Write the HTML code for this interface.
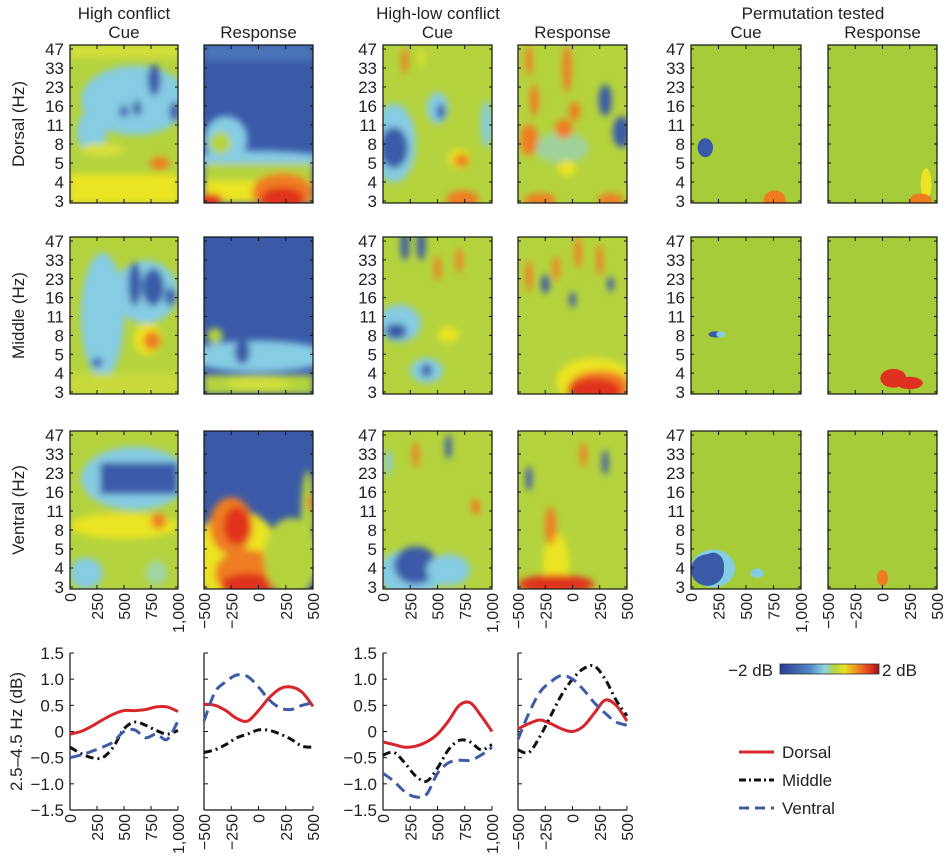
<!DOCTYPE html>
<html><head><meta charset="utf-8"><style>
html,body{margin:0;padding:0;background:#fff;}
svg text{font-family:"Liberation Sans",sans-serif;fill:#222;}
</style></head><body>
<svg id="fig" width="946" height="863" viewBox="0 0 946 863" xmlns="http://www.w3.org/2000/svg">
<defs>
<filter id="blur" x="-20%" y="-20%" width="140%" height="140%"><feGaussianBlur stdDeviation="3.5"/></filter>
</defs>
</svg>
<script>
// ---- Line chart data ----
const cueTimes = [0,100,200,300,400,500,600,700,800,900,1000];
const respTimes = [-500,-400,-300,-200,-100,0,100,200,300,400,500];
const hcCueDorsal  = [-0.05,0,0.1,0.22,0.33,0.4,0.4,0.42,0.47,0.47,0.38];
const hcCueMiddle  = [-0.3,-0.42,-0.5,-0.5,-0.3,0.05,0.18,0.12,0.02,-0.05,0.02];
const hcCueVentral = [-0.5,-0.45,-0.38,-0.3,-0.2,0.0,0.03,-0.12,-0.05,-0.15,0.2];
const hcRespDorsal  = [0.52,0.5,0.4,0.25,0.2,0.4,0.65,0.82,0.85,0.75,0.48];
const hcRespMiddle  = [-0.4,-0.35,-0.25,-0.12,-0.05,0.03,0.02,-0.05,-0.15,-0.28,-0.3];
const hcRespVentral = [0.2,0.75,0.95,1.08,1.05,0.85,0.6,0.45,0.42,0.5,0.55];
const hlCueDorsal  = [-0.2,-0.25,-0.3,-0.28,-0.2,-0.05,0.2,0.5,0.55,0.3,0.0];
const hlCueMiddle  = [-0.45,-0.4,-0.6,-0.85,-0.95,-0.7,-0.35,-0.17,-0.2,-0.35,-0.25];
const hlCueVentral = [-0.8,-0.95,-1.15,-1.25,-1.2,-0.8,-0.6,-0.55,-0.55,-0.45,-0.3];
const hlRespDorsal  = [0.05,0.15,0.22,0.15,0.05,0.0,0.1,0.35,0.6,0.5,0.2];
const hlRespMiddle  = [-0.35,-0.4,-0.1,0.3,0.7,1.0,1.2,1.25,1.0,0.6,0.3];
const hlRespVentral = [-0.15,0.35,0.75,0.95,1.07,1.0,0.8,0.55,0.35,0.18,0.12];
const yTickVals = [1.5,1.0,0.5,0,-0.5,-1.0,-1.5];
const yTickLabels = ["1.5","1.0","0.5","0","\u22120.5","\u22121.0","\u22121.5"];
const cueTickVals = [0,250,500,750,1000];
const cueTickLabels = ["0","250","500","750","1,000"];
const respTickVals = [-500,-250,0,250,500];
const respTickLabels = ["\u2212500","\u2212250","0","250","500"];
const freqLabels = ["47","33","23","16","11","8","5","4","3"];

const G='#b5d33e',Y='#ebe424',C='#86cce3',B='#3a5aa8',R='#e0301f',O='#ef7d20',PG='#a6cc3a';
const heat = [
 [ {bg:G,b:[['r',0,0,1,0.08,'#d3e03a'],['e',0.6,0.35,0.5,0.22,C],['e',0.2,0.55,0.14,0.14,C],['e',0.5,0.42,0.04,0.04,B],['e',0.62,0.4,0.04,0.05,B],['e',0.78,0.22,0.06,0.1,B],['e',0.97,0.42,0.05,0.06,B],['r',0,0.82,1,0.18,Y],['e',0.3,0.66,0.2,0.04,'#d8e03a'],['e',0.83,0.75,0.09,0.04,O]]},
   {bg:B,b:[['r',0,0,1,0.1,'#4c74b8'],['e',0.2,0.6,0.2,0.15,C],['e',0.5,0.72,0.6,0.05,C],['e',0.15,0.62,0.1,0.07,G],['r',0,0.75,1,0.25,G],['r',0,0.86,1,0.14,Y],['e',0.72,0.93,0.28,0.12,O],['e',0.72,0.97,0.2,0.07,R],['e',0.05,0.98,0.12,0.04,R]]},
   {bg:G,b:[['e',0.1,0.62,0.2,0.25,C],['e',0.1,0.65,0.13,0.13,B],['e',0.5,0.4,0.1,0.1,C],['e',0.53,0.42,0.04,0.05,B],['e',0.95,0.5,0.05,0.15,C],['e',0.2,0.1,0.03,0.08,O],['e',0.35,0.08,0.02,0.06,Y],['e',0.7,0.72,0.1,0.06,Y],['e',0.72,0.73,0.07,0.04,O],['e',0.73,0.98,0.15,0.06,O]]},
   {bg:G,b:[['e',0.4,0.65,0.25,0.1,'#9fd29a'],['e',0.45,0.15,0.04,0.15,O],['e',0.1,0.1,0.03,0.1,O],['e',0.15,0.35,0.04,0.1,O],['e',0.95,0.55,0.08,0.1,B],['e',0.8,0.35,0.06,0.1,B],['e',0.1,0.6,0.08,0.1,O],['e',0.42,0.53,0.08,0.06,O],['e',0.52,0.42,0.05,0.06,O],['e',0.2,0.98,0.15,0.04,O],['e',0.85,0.98,0.12,0.04,O],['e',0.45,0.78,0.08,0.05,Y]]},
   {bg:PG,s:1,b:[['e',0.13,0.65,0.07,0.06,B],['e',0.76,0.98,0.1,0.06,O]]},
   {bg:PG,s:1,b:[['e',0.9,0.88,0.05,0.1,Y],['e',0.85,0.98,0.1,0.04,O]]} ],
 [ {bg:G,b:[['e',0.3,0.5,0.2,0.4,C],['e',0.7,0.35,0.3,0.2,C],['e',0.6,0.3,0.06,0.14,B],['e',0.77,0.32,0.1,0.12,B],['e',0.93,0.38,0.05,0.06,B],['e',0.25,0.8,0.05,0.03,B],['e',0.72,0.65,0.13,0.1,Y],['e',0.76,0.66,0.08,0.06,O],['r',0,0.87,1,0.13,'#c8da3a']]},
   {bg:B,b:[['e',0.5,0.76,0.65,0.1,C],['e',0.1,0.63,0.07,0.05,G],['e',0.35,0.73,0.07,0.08,B],['r',0,0.88,1,0.12,G],['e',0.5,0.93,0.3,0.05,'#cfe03a']]},
   {bg:G,b:[['e',0.15,0.55,0.2,0.12,C],['e',0.12,0.6,0.1,0.05,B],['e',0.4,0.85,0.15,0.08,C],['e',0.4,0.85,0.05,0.04,B],['e',0.6,0.62,0.1,0.05,Y],['e',0.2,0.05,0.04,0.1,B],['e',0.35,0.05,0.04,0.1,B],['e',0.5,0.2,0.03,0.08,O],['e',0.7,0.15,0.03,0.08,O]]},
   {bg:G,b:[['e',0.7,0.92,0.35,0.15,Y],['e',0.75,0.95,0.28,0.1,O],['e',0.7,0.98,0.25,0.08,R],['e',0.1,0.25,0.03,0.1,O],['e',0.55,0.1,0.03,0.1,O],['e',0.75,0.15,0.03,0.1,O],['e',0.35,0.2,0.03,0.08,O],['e',0.5,0.4,0.03,0.05,B],['e',0.25,0.3,0.04,0.06,B],['e',0.85,0.3,0.03,0.05,B]]},
   {bg:PG,s:1,b:[['e',0.22,0.62,0.06,0.02,B],['e',0.27,0.62,0.04,0.02,C]]},
   {bg:PG,s:1,b:[['e',0.6,0.9,0.12,0.06,R],['e',0.75,0.93,0.12,0.04,R]]} ],
 [ {bg:G,b:[['e',0.6,0.3,0.5,0.2,C],['r',0.28,0.2,0.72,0.2,B],['e',0.5,0.6,0.5,0.08,Y],['e',0.82,0.57,0.07,0.05,O],['e',0.15,0.9,0.15,0.1,C],['e',0.8,0.9,0.1,0.08,'#a0d4a0']]},
   {bg:B,b:[['e',0.3,0.8,0.4,0.3,Y],['e',0.25,0.6,0.2,0.18,O],['e',0.3,0.6,0.12,0.12,R],['e',0.4,0.9,0.3,0.15,O],['e',0.4,0.98,0.25,0.08,R],['e',0.8,0.8,0.25,0.25,G],['e',0.95,0.55,0.06,0.3,G],['e',0.98,0.45,0.03,0.05,O]]},
   {bg:G,b:[['e',0.25,0.9,0.3,0.15,C],['e',0.3,0.85,0.2,0.12,B],['e',0.6,0.88,0.2,0.1,C],['e',0.85,0.48,0.04,0.05,O],['e',0.3,0.15,0.03,0.08,O],['e',0.6,0.1,0.03,0.08,B],['e',0.05,0.2,0.03,0.08,C]]},
   {bg:G,b:[['e',0.35,0.85,0.12,0.2,Y],['e',0.35,0.97,0.35,0.06,R],['e',0.3,0.6,0.05,0.12,O],['e',0.6,0.15,0.03,0.08,O],['e',0.8,0.2,0.03,0.08,B],['e',0.1,0.3,0.03,0.08,B]]},
   {bg:PG,s:1,b:[['e',0.2,0.87,0.2,0.12,C],['e',0.15,0.88,0.15,0.1,B],['e',0.2,0.85,0.1,0.08,B],['e',0.6,0.9,0.06,0.03,C]]},
   {bg:PG,s:1,b:[['e',0.5,0.93,0.05,0.05,O]]} ]
];

const NS='http://www.w3.org/2000/svg';
const svg=document.getElementById('fig');
function el(tag,attrs,parent){const e=document.createElementNS(NS,tag);for(const k in attrs)e.setAttribute(k,attrs[k]);(parent||svg).appendChild(e);return e;}
function txt(s,x,y,size,anchor,extra){const t=el('text',Object.assign({x:x,y:y,'font-size':size,'text-anchor':anchor||'middle'},extra||{}));t.textContent=s;return t;}

const colX=[[70,178],[204,313],[383,492],[518,627],[691,801],[828,937]];
const rowY=[[45,203],[237,394],[431,589]];
const rowNames=['Dorsal (Hz)','Middle (Hz)','Ventral (Hz)'];

[['High conflict',124],['High-low conflict',438],['Permutation tested',813]].forEach(h=>{
  const t=txt(h[0],h[1],19,17);
  
  
});
colX.forEach((c,i)=>{
  const t=txt(i%2===0?'Cue':'Response',(c[0]+c[1])/2,38,17);
  
  
});

let clipId=0;
rowY.forEach((r,ri)=>{
  const rl=txt(rowNames[ri],0,0,17,'middle',{transform:`translate(24,${(r[0]+r[1])/2}) rotate(-90)`});
  
  
  colX.forEach((c,ci)=>{
    const x0=c[0],x1=c[1],y0=r[0],y1=r[1],w=x1-x0,h=y1-y0;
    const spec=heat[ri][ci];
    const g=el('g',{});
    
    
    const cp=el('clipPath',{id:'cp'+(++clipId)},g);
    el('rect',{x:x0,y:y0,width:w,height:h},cp);
    const inner=el('g',{'clip-path':`url(#cp${clipId})`},g);
    el('rect',{x:x0,y:y0,width:w,height:h,fill:spec.bg},inner);
    const bl=el('g',spec.s?{}:{filter:'url(#blur)'},inner);
    spec.b.forEach(b=>{
      if(b[0]==='r') el('rect',{x:x0+b[1]*w,y:y0+b[2]*h,width:b[3]*w,height:b[4]*h,fill:b[5]},bl);
      else el('ellipse',{cx:x0+b[1]*w,cy:y0+b[2]*h,rx:b[3]*w,ry:b[4]*h,fill:b[5]},bl);
    });
    el('rect',{x:x0,y:y0,width:w,height:h,fill:'none',stroke:'#111','stroke-width':1.2},g);
    for(let i=0;i<9;i++){
      const yy=y0+4+i*(h-6)/8;
      el('line',{x1:x0,x2:x0+3,y1:yy,y2:yy,stroke:'#111'},g);
      el('line',{x1:x1,x2:x1-3,y1:yy,y2:yy,stroke:'#111'},g);
      if(ci%2===0){const t=txt(freqLabels[i],x0-6,yy+6,17,'end');}
    }
    const tv=ci%2===0?cueTickVals:respTickVals, tl=ci%2===0?cueTickLabels:respTickLabels;
    const d0=tv[0],d1=tv[tv.length-1];
    tv.forEach((v,k)=>{
      const xx=x0+(v-d0)/(d1-d0)*w;
      el('line',{x1:xx,x2:xx,y1:y0,y2:y0+4,stroke:'#111'},g);
      el('line',{x1:xx,x2:xx,y1:y1,y2:y1-4,stroke:'#111'},g);
      if(ri===2){const t=txt(tl[k],0,0,16,'end',{transform:`translate(${xx+6},${y1+4}) rotate(-90)`});}
    });
  });
});

const ly0=653, ly1=810;
function yScale(v){return ly0+(1.5-v)/3*(ly1-ly0);}
function smooth(pts){
  let d=`M${pts[0][0]},${pts[0][1]}`;
  for(let i=0;i<pts.length-1;i++){
    const p0=pts[i-1]||pts[i],p1=pts[i],p2=pts[i+1],p3=pts[i+2]||p2;
    d+=` C${p1[0]+(p2[0]-p0[0])/6},${p1[1]+(p2[1]-p0[1])/6} ${p2[0]-(p3[0]-p1[0])/6},${p2[1]-(p3[1]-p1[1])/6} ${p2[0]},${p2[1]}`;
  }
  return d;
}
const linePanels=[
  {c:colX[0],t:cueTimes,ticks:cueTickVals,tl:cueTickLabels,s:[hcCueDorsal,hcCueMiddle,hcCueVentral],lab:true},
  {c:colX[1],t:respTimes,ticks:respTickVals,tl:respTickLabels,s:[hcRespDorsal,hcRespMiddle,hcRespVentral],lab:false},
  {c:colX[2],t:cueTimes,ticks:cueTickVals,tl:cueTickLabels,s:[hlCueDorsal,hlCueMiddle,hlCueVentral],lab:true},
  {c:colX[3],t:respTimes,ticks:respTickVals,tl:respTickLabels,s:[hlRespDorsal,hlRespMiddle,hlRespVentral],lab:false}
];
const styles=[{stroke:'#d7262b',dash:''},{stroke:'#111',dash:'8,4,2,4'},{stroke:'#3e5ba8',dash:'11,6'}];
const seriesNames=['dorsal-line','middle-line','ventral-line'];
linePanels.forEach(p=>{
  const x0=p.c[0],x1=p.c[1],w=x1-x0;
  const d0=p.ticks[0],d1=p.ticks[p.ticks.length-1];
  const xs=v=>x0+(v-d0)/(d1-d0)*w;
  const g=el('g',{});
  
  
  el('line',{x1:x0,x2:x0,y1:ly0,y2:ly1,stroke:'#111','stroke-width':1.2},g);
  el('line',{x1:x0,x2:x1,y1:ly1,y2:ly1,stroke:'#111','stroke-width':1.2},g);
  yTickVals.forEach((v,k)=>{
    const yy=yScale(v);
    el('line',{x1:x0,x2:x0+4,y1:yy,y2:yy,stroke:'#111'},g);
    if(p.lab){const t=txt(yTickLabels[k],x0-6,yy+6,17,'end');}
  });
  p.ticks.forEach((v,k)=>{
    const xx=xs(v);
    el('line',{x1:xx,x2:xx,y1:ly1,y2:ly1-4,stroke:'#111'},g);
    const t=txt(p.tl[k],0,0,16,'end',{transform:`translate(${xx+6},${ly1+4}) rotate(-90)`});
    
    
  });
  p.s.forEach((vals,si)=>{
    const pts=vals.map((v,i)=>[xs(p.t[i]),yScale(v)]);
    const path=el('path',{d:smooth(pts),fill:'none',stroke:styles[si].stroke,'stroke-width':3,'stroke-dasharray':styles[si].dash},g);
    
    
  });
});
const yl=txt('2.5\u20134.5 Hz (dB)',0,0,17,'middle',{transform:`translate(22,${(ly0+ly1)/2}) rotate(-90)`});



const cb=el('g',{});


const lg=el('linearGradient',{id:'cbg',x1:0,x2:1,y1:0,y2:0},cb);
[['0','#2a3d94'],['0.3','#4f86c6'],['0.45','#8fd3e3'],['0.55','#b5d33e'],['0.65','#ebe424'],['0.8','#ef7d20'],['0.92','#e0301f'],['1','#8c1a14']].forEach(s=>el('stop',{offset:s[0],'stop-color':s[1]},lg));
el('rect',{x:780,y:664,width:99,height:10,fill:'url(#cbg)',stroke:'#333','stroke-width':0.8},cb);
txt('\u22122 dB',773,676,17,'end',{});
txt('2 dB',882,676,17,'start',{});

const leg=el('g',{});


['Dorsal','Middle','Ventral'].forEach((n,i)=>{
  const yy=752+i*28;
  const ln=el('line',{x1:739,x2:774,y1:yy,y2:yy,stroke:styles[i].stroke,'stroke-width':3,'stroke-dasharray':i===1?'7,3,2,3':(i===2?'10,6':'')},leg);
  
  
  const t=txt(n,782,yy+6,17,'start',{});
  
  
});
</script>
</body></html>
